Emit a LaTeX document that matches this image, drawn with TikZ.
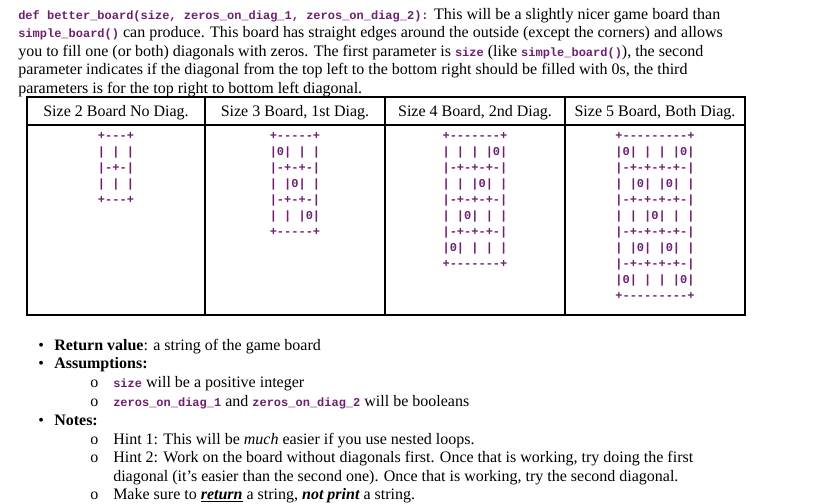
\documentclass[tikz,border=0pt]{standalone}
\usepackage{fontspec}
\setmainfont{Liberation Serif}
\newfontfamily\codef{Liberation Mono}
\definecolor{codecol}{HTML}{6E1F70}
\newcommand{\cd}[1]{{\codef\fontsize{9pt}{12pt}\selectfont\bfseries\color{codecol}#1}}
\tikzset{
 txt/.style={anchor=base west,inner sep=0pt,font=\fontsize{12pt}{14pt}\selectfont},
 hdr/.style={anchor=base,inner sep=0pt,font=\fontsize{12pt}{14pt}\selectfont},
 board/.style={anchor=north,inner sep=0pt,align=left,text=codecol,font=\codef\bfseries\fontsize{9pt}{12pt}\selectfont},
 tbl/.style={draw=black,line width=0.8pt}
}
\begin{document}
\begin{tikzpicture}[x=0.75pt,y=-0.75pt]
\useasboundingbox (0,0) rectangle (819,504);
\node[txt] (l1) at (18,19) {\cd{def better\_board(size, zeros\_on\_diag\_1, zeros\_on\_diag\_2):} This will be a slightly nicer game board than};
\node[txt] (l2) at (18,37) {\cd{simple\_board()} can produce. This board has straight edges around the outside (except the corners) and allows};
\node[txt] (l3) at (18,56) {you to fill one (or both) diagonals with zeros. The first parameter is \cd{size} (like \cd{simple\_board()}), the second};
\node[txt] (l4) at (18,74) {parameter indicates if the diagonal from the top left to the bottom right should be filled with 0s, the third};
\node[txt] (l5) at (18,93) {parameters is for the top right to bottom left diagonal.};
% table
\draw[tbl] (27,97) rectangle (745,315);
\draw[tbl] (27,125) -- (745,125);
\foreach \x in {205,385,565} \draw[tbl] (\x,97) -- (\x,315);
\node[hdr] (h1) at (116,116) {Size 2 Board No Diag.};
\node[hdr] (h2) at (295,116) {Size 3 Board, 1st Diag.};
\node[hdr] (h3) at (475,116) {Size 4 Board, 2nd Diag.};
\node[hdr] (h4) at (655,116) {Size 5 Board, Both Diag.};
\node[board] (b1) at (116,132) {+{-}{-}{-}+\\| | |\\|{-}+{-}|\\| | |\\+{-}{-}{-}+};
\node[board] (b2) at (295,132) {+{-}{-}{-}{-}{-}+\\|0| | |\\|{-}+{-}+{-}|\\| |0| |\\|{-}+{-}+{-}|\\| | |0|\\+{-}{-}{-}{-}{-}+};
\node[board] (b3) at (475,132) {+{-}{-}{-}{-}{-}{-}{-}+\\| | | |0|\\|{-}+{-}+{-}+{-}|\\| | |0| |\\|{-}+{-}+{-}+{-}|\\| |0| | |\\|{-}+{-}+{-}+{-}|\\|0| | | |\\+{-}{-}{-}{-}{-}{-}{-}+};
\node[board] (b4) at (655,132) {+{-}{-}{-}{-}{-}{-}{-}{-}{-}+\\|0| | | |0|\\|{-}+{-}+{-}+{-}+{-}|\\| |0| |0| |\\|{-}+{-}+{-}+{-}+{-}|\\| | |0| | |\\|{-}+{-}+{-}+{-}+{-}|\\| |0| |0| |\\|{-}+{-}+{-}+{-}+{-}|\\|0| | | |0|\\+{-}{-}{-}{-}{-}{-}{-}{-}{-}+};
% bullets
\foreach \y/\n in {350/p1,368/p2,425/p3} \node[txt] (\n) at (38,\y) {•};
\foreach \y/\n in {387/o1,406/o2,444/o3,462/o4,499/o5} \node[txt] (\n) at (90,\y) {o};
\node[txt] (t1) at (54,350) {\textbf{Return value}: a string of the game board};
\node[txt] (t2) at (54,368) {\textbf{Assumptions:}};
\node[txt] (t3) at (113,387) {\cd{size} will be a positive integer};
\node[txt] (t4) at (113,406) {\cd{zeros\_on\_diag\_1} and \cd{zeros\_on\_diag\_2} will be booleans};
\node[txt] (t5) at (54,425) {\textbf{Notes:}};
\node[txt] (t6) at (113,444) {Hint 1: This will be \textit{much} easier if you use nested loops.};
\node[txt] (t7) at (113,462) {Hint 2: Work on the board without diagonals first. Once that is working, try doing the first};
\node[txt] (t8) at (113,481) {diagonal (it’s easier than the second one). Once that is working, try the second diagonal.};
\node[txt] (t9) at (113,499) {Make sure to \textbf{\textit{\underline{return}}} a string, \textbf{\textit{\underline{not print}}} a string.};
\end{tikzpicture}
\end{document}
